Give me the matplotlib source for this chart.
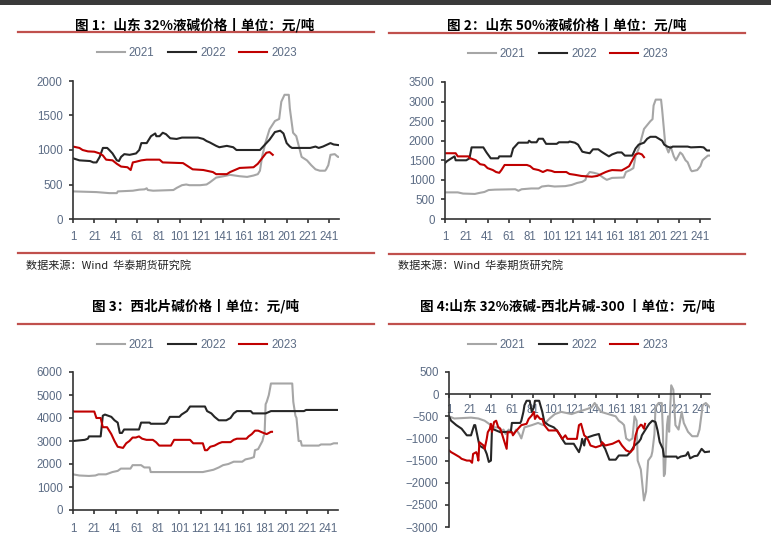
import matplotlib
matplotlib.use("Agg")
import matplotlib.pyplot as plt
from matplotlib.patches import Rectangle
from matplotlib.lines import Line2D

W, H = 771, 544

# (day, value) breakpoints
c1_2021 = [(1, 400), (23, 390), (35, 375), (42, 375), (43, 400), (57, 410), (63, 425), (68, 430), (70, 445),
           (71, 420), (76, 410), (95, 420), (98, 450), (103, 490), (107, 500), (110, 490), (120, 490), (126, 500),
           (129, 530), (135, 600), (142, 620), (148, 640), (157, 620), (164, 610), (170, 630), (174, 650),
           (176, 700), (178, 900), (181, 1100), (185, 1300), (190, 1420), (194, 1450), (196, 1700), (199, 1800),
           (203, 1800), (204, 1600), (207, 1250), (210, 1200), (215, 900), (220, 850), (224, 780), (228, 720),
           (232, 700), (237, 700), (238, 720), (240, 780), (242, 930), (246, 940), (249, 900), (250, 900)]
c1_2022 = [(1, 880), (7, 850), (17, 840), (20, 820), (23, 820), (26, 900), (29, 1030), (33, 1030), (35, 1000),
           (38, 950), (42, 850), (44, 840), (46, 900), (49, 940), (54, 930), (60, 950), (63, 1000), (65, 1100),
           (70, 1100), (74, 1200), (78, 1240), (79, 1200), (82, 1200), (85, 1250), (88, 1230), (92, 1170),
           (98, 1160), (103, 1180), (118, 1180), (123, 1160), (126, 1130), (129, 1110), (135, 1060), (138, 1040),
           (145, 1060), (151, 1040), (154, 1000), (176, 1000), (179, 1050), (182, 1100), (185, 1150), (190, 1260),
           (195, 1280), (198, 1240), (201, 1100), (204, 1050), (206, 1030), (223, 1030), (228, 1050), (231, 1030),
           (235, 1050), (242, 1100), (245, 1080), (250, 1070)]
c1_2023 = [(1, 1050), (7, 1030), (10, 1000), (15, 980), (21, 975), (26, 950), (29, 920), (32, 860), (38, 850),
           (42, 800), (46, 760), (52, 750), (55, 710), (57, 820), (60, 830), (65, 850), (70, 860), (82, 860),
           (85, 820), (104, 810), (107, 780), (113, 720), (123, 710), (132, 680), (135, 650), (145, 650),
           (148, 680), (151, 700), (157, 740), (170, 750), (174, 800), (179, 900), (182, 960), (185, 970), (188, 930)]

c2_2021 = [(1, 680), (13, 680), (18, 650), (29, 640), (34, 670), (38, 690), (42, 740), (48, 750), (67, 760),
           (70, 720), (73, 760), (82, 780), (89, 780), (92, 830), (98, 850), (104, 830), (114, 840), (120, 870),
           (125, 920), (130, 950), (133, 1000), (134, 1100), (137, 1200), (141, 1180), (145, 1150), (150, 1050),
           (153, 1000), (158, 1050), (169, 1060), (171, 1200), (175, 1250), (178, 1300), (180, 1600), (183, 1800),
           (188, 2300), (191, 2400), (194, 2500), (196, 2550), (197, 2900), (199, 3050), (204, 3050), (205, 2800),
           (207, 2200), (208, 1900), (211, 1700), (213, 1850), (216, 1600), (218, 1500), (219, 1550), (222, 1700),
           (224, 1650), (227, 1500), (229, 1450), (232, 1250), (233, 1220), (238, 1250), (241, 1350), (243, 1500),
           (245, 1550), (248, 1620), (250, 1620)]
c2_2022 = [(1, 1430), (3, 1480), (7, 1550), (10, 1600), (11, 1500), (21, 1500), (24, 1550), (26, 1830), (37, 1830),
           (40, 1700), (44, 1550), (51, 1550), (52, 1600), (63, 1600), (65, 1800), (70, 1950), (79, 1950),
           (80, 2000), (82, 1960), (87, 1960), (89, 2050), (93, 2050), (96, 1920), (106, 1920), (108, 1960),
           (117, 1960), (118, 1980), (123, 1950), (126, 1900), (130, 1720), (133, 1700), (137, 1680), (140, 1780),
           (145, 1780), (148, 1720), (152, 1650), (155, 1600), (158, 1650), (163, 1700), (167, 1700), (170, 1620),
           (177, 1620), (180, 1800), (183, 1900), (188, 1950), (191, 2050), (194, 2100), (199, 2100), (202, 2050),
           (205, 2000), (207, 1900), (210, 1850), (213, 1820), (215, 1850), (229, 1850), (232, 1830), (241, 1840),
           (244, 1830), (247, 1750), (250, 1750)]
c2_2023 = [(1, 1680), (11, 1680), (13, 1600), (23, 1600), (24, 1560), (30, 1500), (34, 1400), (38, 1380),
           (41, 1300), (46, 1250), (49, 1200), (52, 1180), (54, 1250), (57, 1380), (78, 1380), (81, 1350),
           (84, 1280), (89, 1250), (93, 1200), (97, 1250), (101, 1230), (104, 1200), (115, 1200), (118, 1150),
           (123, 1130), (129, 1100), (139, 1080), (144, 1100), (148, 1150), (152, 1200), (155, 1230), (158, 1250),
           (167, 1240), (171, 1300), (174, 1350), (177, 1500), (180, 1650), (183, 1680), (186, 1650), (188, 1580)]

c3_2021 = [(1, 1550), (7, 1500), (16, 1480), (22, 1500), (25, 1550), (32, 1550), (35, 1600), (38, 1650),
           (43, 1700), (46, 1800), (55, 1800), (57, 1950), (65, 1950), (68, 1850), (73, 1850), (74, 1650),
           (123, 1650), (128, 1700), (133, 1750), (138, 1850), (142, 1950), (147, 2000), (152, 2100), (160, 2100),
           (163, 2200), (168, 2250), (171, 2300), (172, 2600), (175, 2650), (179, 3000), (180, 3200), (181, 3300),
           (182, 4600), (183, 4700), (185, 5000), (187, 5500), (207, 5500), (208, 4700), (210, 4100), (211, 4000),
           (213, 3000), (215, 3000), (216, 2800), (232, 2800), (234, 2850), (243, 2850), (246, 2900), (250, 2900)]
c3_2022 = [(1, 3000), (12, 3050), (15, 3100), (16, 3200), (27, 3200), (29, 4100), (31, 4150), (37, 4050),
           (40, 3900), (43, 3800), (45, 3350), (47, 3350), (49, 3500), (63, 3500), (65, 3800), (73, 3800),
           (74, 3750), (87, 3750), (89, 3800), (92, 4050), (101, 4050), (103, 4150), (108, 4300), (111, 4500),
           (125, 4500), (127, 4300), (131, 4200), (134, 4050), (138, 3900), (145, 3900), (149, 4000), (152, 4200),
           (155, 4300), (168, 4300), (170, 4200), (182, 4200), (187, 4300), (218, 4300), (220, 4350), (250, 4350)]
c3_2023 = [(1, 4300), (2, 4280), (21, 4280), (23, 4000), (27, 4000), (29, 3600), (33, 3600), (37, 3300),
           (40, 3000), (43, 2750), (48, 2700), (51, 2900), (54, 3000), (57, 3150), (60, 3150), (63, 3200),
           (66, 3100), (70, 3050), (76, 3050), (79, 2950), (82, 2800), (93, 2800), (96, 3050), (111, 3050),
           (114, 2900), (123, 2900), (125, 2600), (127, 2600), (130, 2750), (134, 2800), (138, 2900), (141, 2950),
           (149, 2950), (152, 3050), (155, 3100), (164, 3100), (166, 3200), (169, 3300), (172, 3450), (175, 3450),
           (180, 3350), (183, 3300), (187, 3400), (188, 3400)]

c4_2021 = [(1, -500), (6, -550), (22, -530), (29, -550), (35, -600), (41, -700), (44, -750), (49, -750),
           (50, -850), (53, -800), (55, -900), (58, -800), (63, -900), (65, -800), (68, -900), (70, -1000),
           (73, -750), (80, -700), (86, -650), (91, -700), (95, -600), (97, -550), (102, -450), (108, -400),
           (118, -450), (124, -400), (131, -350), (137, -300), (140, -200), (143, -300), (146, -400), (153, -450),
           (160, -500), (163, -600), (166, -650), (168, -700), (170, -1000), (173, -1050), (176, -1000),
           (178, -500), (180, -600), (181, -1500), (184, -1700), (187, -2400), (189, -2200), (191, -1500),
           (194, -1400), (195, -1300), (197, -900), (198, -300), (201, -200), (204, -200), (205, -800),
           (206, -1850), (207, -1800), (209, -700), (210, -500), (211, -850), (213, 200), (215, 100), (217, -700),
           (220, -800), (223, -400), (225, -650), (229, -850), (233, -950), (238, -950), (240, -800), (243, -250),
           (246, -200), (250, -300)]
c4_2022 = [(1, -500), (3, -600), (8, -700), (13, -780), (18, -930), (22, -930), (25, -700), (26, -700),
           (28, -930), (30, -1160), (35, -1235), (37, -1350), (39, -1530), (41, -1500), (42, -780), (44, -800),
           (50, -860), (57, -850), (60, -850), (61, -650), (69, -650), (70, -600), (72, -400), (73, -250),
           (75, -150), (78, -150), (80, -400), (82, -300), (83, -150), (87, -150), (90, -400), (92, -630),
           (96, -700), (101, -750), (104, -820), (107, -930), (110, -1050), (112, -1120), (120, -1120),
           (123, -1235), (125, -1310), (127, -1150), (128, -1010), (130, -1160), (131, -1010), (134, -970),
           (139, -930), (144, -900), (146, -1080), (150, -1235), (154, -1480), (160, -1480), (163, -1385),
           (171, -1385), (174, -1310), (178, -1160), (182, -1080), (184, -1010), (185, -930), (189, -780),
           (192, -670), (195, -600), (198, -630), (200, -820), (202, -1080), (205, -1235), (206, -1410),
           (218, -1410), (219, -1450), (222, -1410), (227, -1385), (229, -1310), (231, -1450), (235, -1400),
           (238, -1390), (242, -1235), (245, -1310), (250, -1295)]
c4_2023 = [(1, -1270), (3, -1310), (6, -1350), (11, -1420), (13, -1460), (18, -1500), (21, -1500), (23, -1550),
           (24, -1350), (27, -1310), (28, -1380), (29, -1500), (30, -1085), (34, -1160), (35, -1235), (37, -1010),
           (38, -860), (40, -780), (41, -670), (42, -850), (44, -630), (46, -600), (48, -750), (50, -780),
           (53, -1010), (56, -1235), (57, -860), (61, -860), (62, -930), (64, -860), (67, -780), (70, -700),
           (75, -670), (77, -560), (80, -480), (82, -400), (83, -560), (85, -480), (88, -560), (90, -560),
           (92, -700), (96, -820), (104, -820), (107, -930), (109, -1010), (112, -930), (114, -1010), (123, -1010),
           (125, -700), (127, -670), (130, -930), (132, -970), (134, -1050), (136, -1160), (141, -1200),
           (146, -1160), (147, -1085), (150, -1160), (157, -1120), (160, -1085), (163, -1050), (166, -1160),
           (170, -1270), (174, -1310), (177, -1235), (179, -930), (181, -780), (184, -690), (185, -700),
           (187, -780), (188, -670)]

years = ["2021", "2022", "2023"]
colors = ["#a6a6a6", "#262626", "#c00000"]
xticks = list(range(1, 242, 20))

titles = ["图 1：山东 32%液碱价格丨单位：元/吨",
          "图 2：山东 50%液碱价格丨单位：元/吨",
          "图 3：西北片碱价格丨单位：元/吨",
          "图 4:山东 32%液碱-西北片碱-300 丨单位：元/吨"]
source = "数据来源：Wind  华泰期货研究院"

TICK_C = "#5b6b84"
RED_C = "#c0504d"
CJK = ["Noto Sans CJK SC", "DejaVu Sans"]
NUM = ["Liberation Sans", "DejaVu Sans"]

fig = plt.figure(figsize=(W / 100, H / 100), dpi=100)


def fx(px):
    return px / W


def fy(py):
    return 1 - py / H


def hline(y, x0, x1):
    fig.add_artist(Line2D([fx(x0), fx(x1)], [fy(y), fy(y)], color=RED_C, lw=1.6, transform=fig.transFigure))


# dark band on top
fig.add_artist(Rectangle((0, fy(5)), 1, 5 / H, color="#3a3a3a", transform=fig.transFigure, lw=0))

panels = [
    dict(series=[c1_2021, c1_2022, c1_2023], box=(73, 81, 339, 219), ylim=(0, 2000), step=500,
         title=(195, 25), rule=(32, 18, 374), legend=(197, 53), foot=(253, 26, 265)),
    dict(series=[c2_2021, c2_2022, c2_2023], box=(445, 82, 710, 219), ylim=(0, 3500), step=500,
         title=(567, 25), rule=(33, 389, 745), legend=(568, 54), foot=(254, 398, 265)),
    dict(series=[c3_2021, c3_2022, c3_2023], box=(73, 372, 338, 510), ylim=(0, 6000), step=1000,
         title=(196, 306), rule=(324, 18, 374), legend=(197, 345), foot=None),
    dict(series=[c4_2021, c4_2022, c4_2023], box=(449, 372, 710, 527), ylim=(-3000, 500), step=500,
         title=(567, 306), rule=(324, 389, 745), legend=(568, 345), foot=None),
]

for i, p in enumerate(panels):
    x0, y0, x1, y1 = p["box"]
    ax = fig.add_axes([fx(x0), fy(y1), (x1 - x0) / W, (y1 - y0) / H])
    for s, yr, c in zip(p["series"], years, colors):
        ax.plot([d for d, v in s], [v for d, v in s], color=c, lw=1.5, label=yr)

    lo, hi = p["ylim"]
    ax.set_ylim(lo, hi)
    ax.set_xlim(1, 250)
    ax.set_yticks(range(lo, hi + 1, p["step"]))
    ax.set_xticks(xticks)
    for side in ["top", "right"]:
        ax.spines[side].set_visible(False)
    for side in ["left", "bottom"]:
        ax.spines[side].set_color("#333333")
        ax.spines[side].set_linewidth(1.2)
    if lo < 0:
        ax.spines["bottom"].set_position(("data", 0))
        ax.tick_params(axis="x", pad=4)
    else:
        ax.tick_params(axis="x", pad=6)
    ax.tick_params(axis="both", length=3, width=1.2, color="#333333", labelsize=8.3, labelcolor=TICK_C)
    ax.tick_params(axis="y", pad=4.5)
    for lab in ax.get_xticklabels() + ax.get_yticklabels():
        lab.set_fontfamily(NUM)
    ax.patch.set_alpha(0)

    tx, ty = p["title"]
    fig.text(fx(tx), fy(ty), titles[i], ha="center", va="center", fontsize=9.8, fontweight="bold",
             family=CJK, color="#000000")
    ry, rx0, rx1 = p["rule"]
    hline(ry, rx0, rx1)

    lx, ly = p["legend"]
    ax.legend(loc="center", bbox_to_anchor=(fx(lx), fy(ly)), bbox_transform=fig.transFigure, ncol=3,
              frameon=False, handlelength=2.4, handletextpad=0.35, columnspacing=1.2,
              prop={"family": NUM, "size": 8.3}, labelcolor=TICK_C)

    if p["foot"]:
        by, sx, sy = p["foot"]
        hline(by, p["rule"][1], p["rule"][2])
        fig.text(fx(sx), fy(sy), source, ha="left", va="center", fontsize=8, family=CJK, color="#222222")

fig.savefig("out.png", dpi=100)
